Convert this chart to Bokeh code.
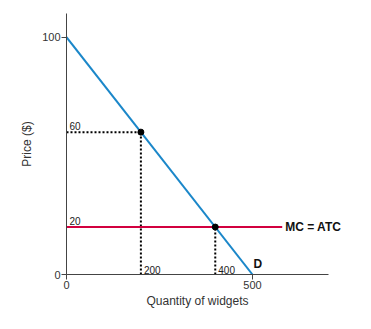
from bokeh.plotting import figure
from bokeh.models import FixedTicker, Range1d, Label, Title
from bokeh.core.properties import value
from bokeh.embed import file_html
from bokeh.resources import INLINE

# data
demand_q = [0, 500]
demand_p = [100, 0]
mc_q = [0, 580]
mc_p = [20, 20]
pt_q = [200, 400]
pt_p = [60, 20]
price_labels = ["60", "20"]
qty_labels = ["200", "400"]
x_ticks = [0, 500]
y_ticks = [0, 100]
x_axis_end = 705
y_axis_end = 110

FONT = "Liberation Sans"
BLUE = "#1b87c9"
RED = "#d2003f"

p = figure(width=371, height=329, output_backend="svg", toolbar_location=None,
           x_range=Range1d(0, 812), y_range=Range1d(0, y_axis_end),
           min_border_left=66, min_border_right=3, min_border_top=13, min_border_bottom=55)
p.grid.visible = False
p.outline_line_color = None
p.background_fill_color = "white"

for ax in (p.xaxis[0], p.yaxis[0]):
    ax.axis_line_color = "#444444"
    ax.axis_line_width = 1
    ax.major_tick_line_color = "#444444"
    ax.minor_tick_line_color = None
    ax.major_tick_in = 0
    ax.major_tick_out = 5
    ax.major_label_text_font = FONT
    ax.major_label_text_font_size = "11px"
    ax.major_label_text_color = "#333333"
    ax.axis_label_text_font = FONT
    ax.axis_label_text_font_style = "normal"
    ax.axis_label_text_color = "#333333"
    ax.axis_label_text_font_size = "12px"
    ax.major_label_standoff = 1

p.xaxis.bounds = (0, x_axis_end)
p.xaxis.ticker = FixedTicker(ticks=x_ticks)
p.yaxis.ticker = FixedTicker(ticks=y_ticks)
p.yaxis.axis_label = "Price ($)"
p.yaxis.axis_label_standoff = 5

xlabel = Title(text="Quantity of widgets", align="left", offset=80, standoff=0,
               text_font=FONT, text_font_size="12px", text_font_style="normal",
               text_color="#333333")
p.add_layout(xlabel, "below")

# dotted guides
for q, pr in zip(pt_q, pt_p):
    p.line([q, q], [0, pr], line_color="black", line_width=2, line_dash="2 2")
p.line([0, pt_q[0]], [pt_p[0], pt_p[0]], line_color="black", line_width=2, line_dash="2 2")

p.line(mc_q, mc_p, line_color=RED, line_width=2)
p.line(demand_q, demand_p, line_color=BLUE, line_width=2)
p.scatter(pt_q, pt_p, size=6, color="black")

# labels
p.text(x=[0, 0], y=pt_p, text=price_labels, x_offset=3, y_offset=-2,
       text_font=value(FONT), text_font_size="10px", text_color="#222222",
       text_baseline="bottom", text_align="left")
p.text(x=pt_q, y=[0, 0], text=qty_labels, x_offset=3, y_offset=-1,
       text_font=value(FONT), text_font_size="10px", text_color="#222222",
       text_baseline="bottom", text_align="left")
p.add_layout(Label(x=mc_q[1], y=mc_p[1], text="MC = ATC", x_offset=3, y_offset=0,
                   text_font=FONT, text_font_size="12px", text_font_style="bold",
                   text_color="#111111", text_baseline="middle", text_align="left"))
p.add_layout(Label(x=demand_q[1], y=demand_p[1], text="D", x_offset=1, y_offset=4,
                   text_font=FONT, text_font_size="12px", text_font_style="bold",
                   text_color="#111111", text_baseline="bottom", text_align="left"))

open("out.html", "w").write(file_html(p, INLINE))
